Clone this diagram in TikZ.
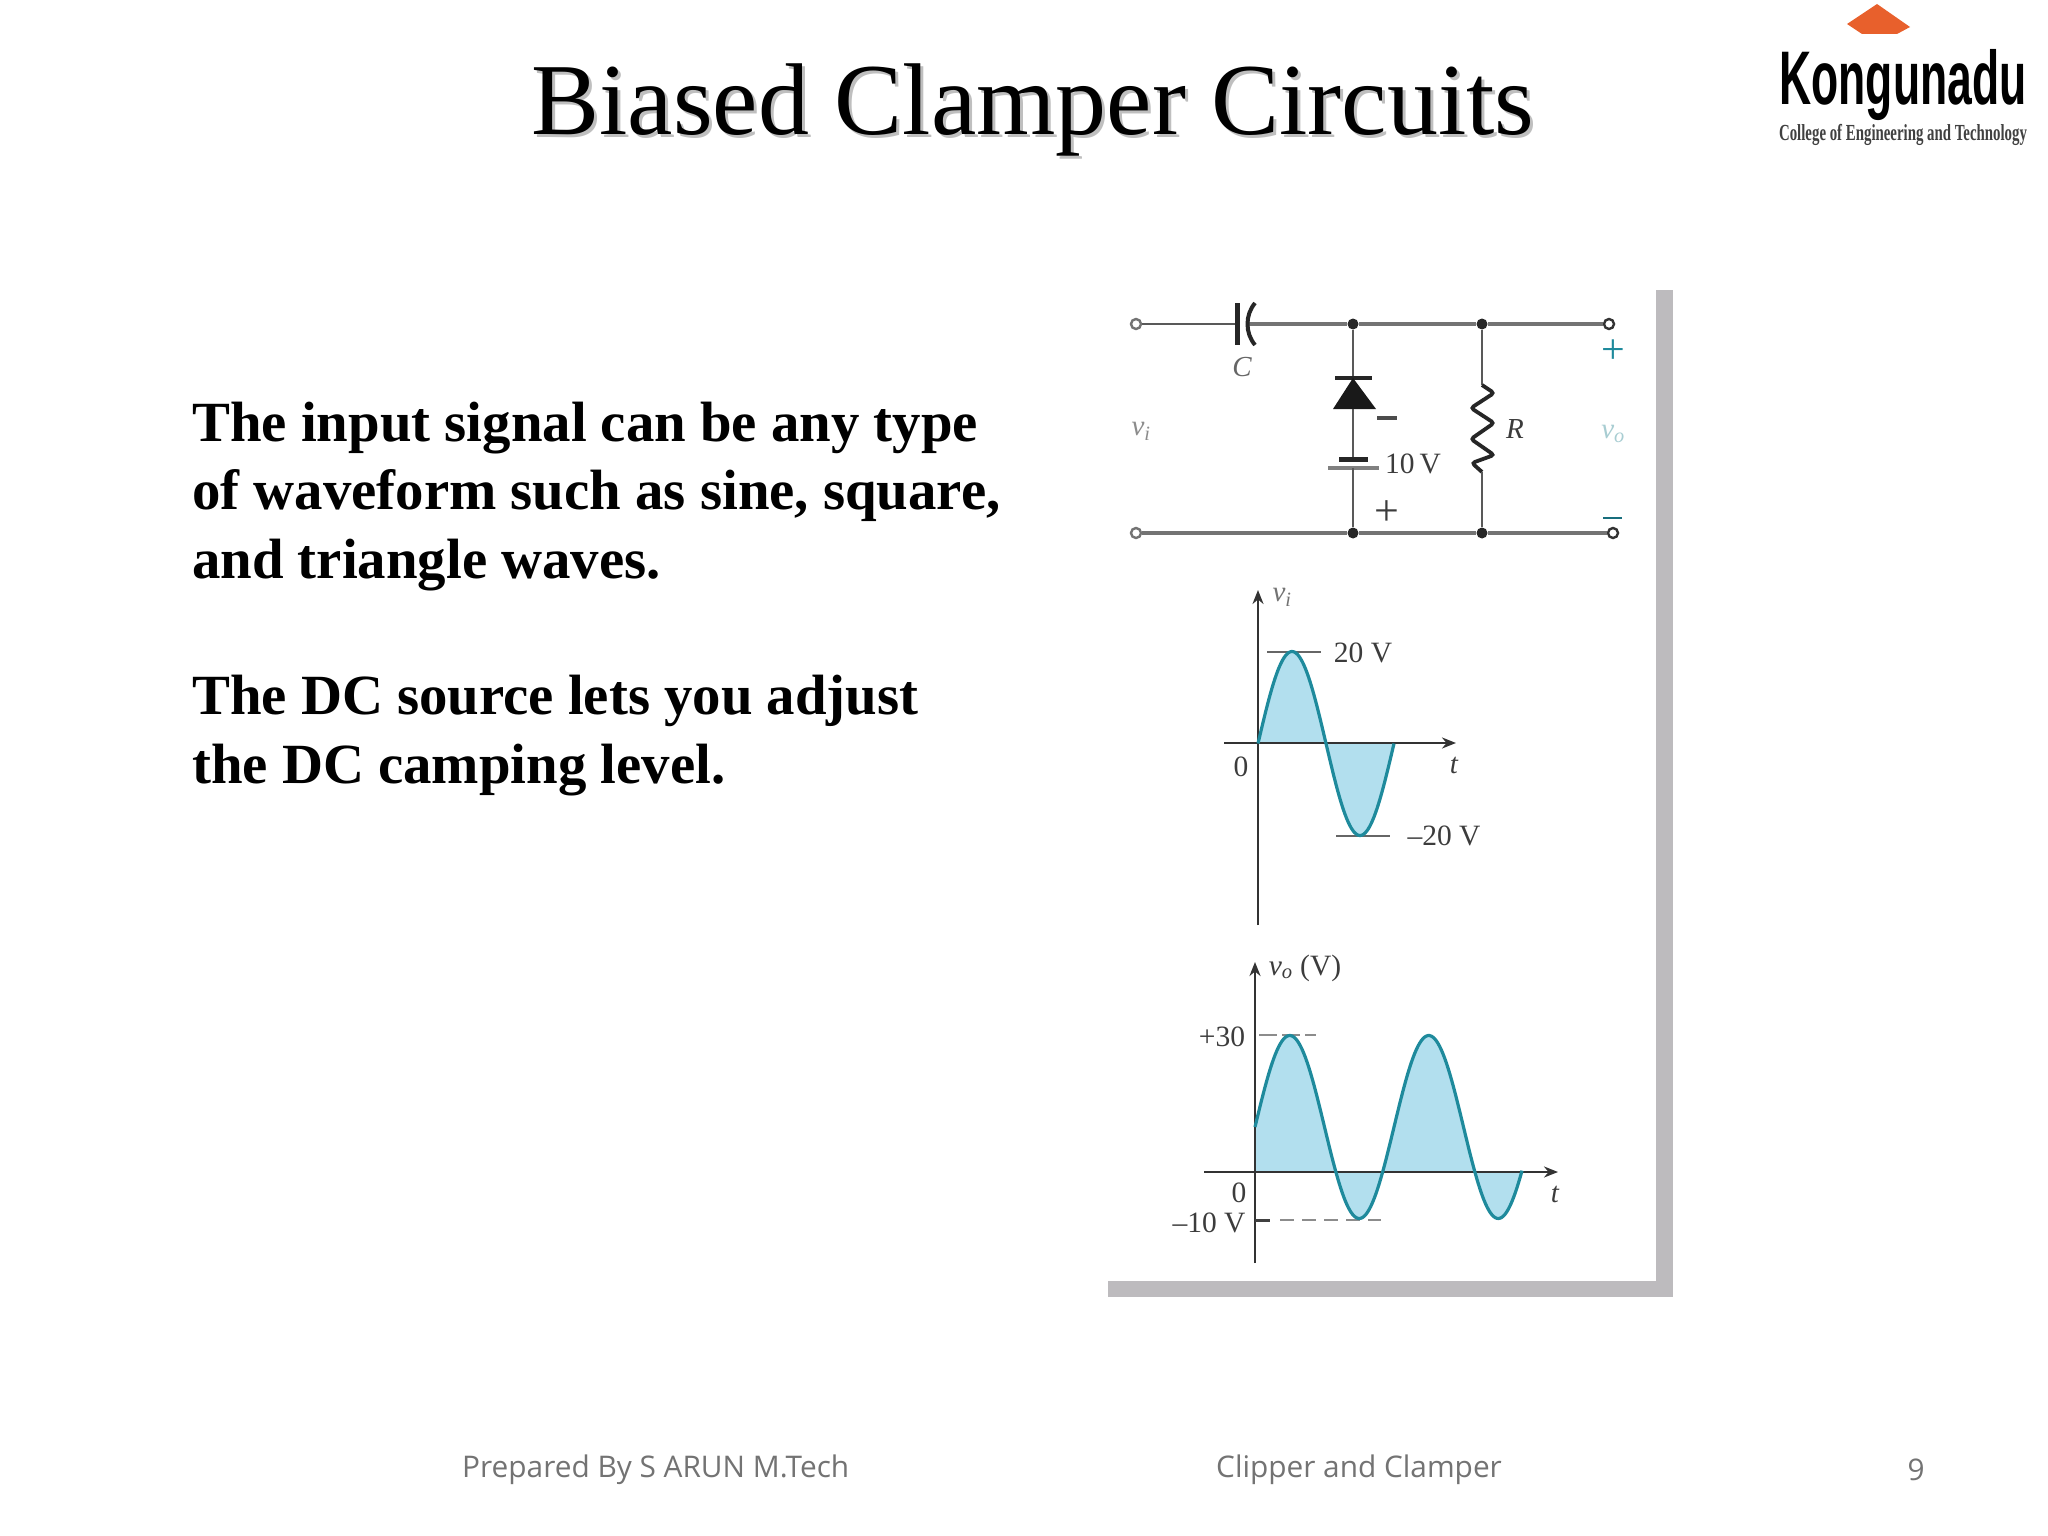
\documentclass[tikz,border=0pt]{standalone}
\usepackage{fontspec}
\usetikzlibrary{arrows.meta}
\setmainfont{Liberation Serif}
\newfontfamily\footfont{Open Sans}
\newfontfamily\logofont{Liberation Sans}
\definecolor{wavefill}{HTML}{B2DFEE}
\definecolor{waveline}{HTML}{1E8A9C}
\definecolor{panelgray}{HTML}{BDBBBE}
\definecolor{capred}{HTML}{E8602C}
\definecolor{labelgray}{HTML}{3C3C3C}
\definecolor{tealgray}{HTML}{A8CDD2}
\tikzset{
    wire/.style={line width=2.4pt,draw=black!65},
    heavywire/.style={line width=3.2pt,draw=black!55},
    axis/.style={line width=2.6pt,draw=black!80,-{Stealth[length=14pt,width=11pt]}},
    term/.style={circle,draw=black!55,fill=white,line width=2.4pt,minimum size=10pt,inner sep=0pt},
    junc/.style={circle,fill=black!85,minimum size=11pt,inner sep=0pt},
    plotlabel/.style={font=\fontsize{29.5}{30}\selectfont,text=labelgray,inner sep=0pt},
    itlabel/.style={plotlabel,font=\itshape\fontsize{29}{30}\selectfont},
    wave/.style={line width=3.2pt,draw=waveline},
    footer/.style={font=\footfont\fontsize{29.8}{32}\selectfont,text=black!55,inner sep=0pt}
}
\begin{document}
\begin{tikzpicture}[x=1pt,y=-1pt]
    \useasboundingbox (0,0) rectangle (2048,1536);
    \fill[white] (0,0) rectangle (2048,1536);

    % heading and slide text
    \node[text=black!25,font=\fontsize{102}{102}\selectfont,inner sep=0pt] (titleshadow) at (1036,113) {Biased Clamper Circuits};
    \node[font=\fontsize{102}{102}\selectfont,inner sep=0pt] (title) at (1033,110) {Biased Clamper Circuits};
    \node[anchor=north west,align=left,inner sep=0pt,font=\bfseries\fontsize{56.8}{68.3}\selectfont] (body) at (192,402) {The input signal can be any type\\of waveform such as sine, square,\\and triangle waves.\\[68.3pt]The DC source lets you adjust\\the DC camping level.};

    % logo
    \fill[capred] (1847,24) -- (1877,4) -- (1910,27) -- (1897,34) -- (1862,34) -- cycle;
    \node[font=\logofont\bfseries\fontsize{76}{76}\selectfont,xscale=.585,inner sep=0pt] (logoname) at (1903,85) {Kongunadu};
    \node[font=\bfseries\fontsize{23}{23}\selectfont,xscale=.646,text=black!75,inner sep=0pt] (logosub) at (1903,135) {College of Engineering and Technology};

    % shadow of the figure
    \fill[panelgray] (1656,290) rectangle (1673,1297);
    \fill[panelgray] (1108,1281) rectangle (1673,1297);

    % circuit
    \node[term] (intop) at (1136,324) {};
    \node[term] (inbot) at (1136,533) {};
    \node[term,draw=black!80] (outtop) at (1609,324) {};
    \node[term,draw=black!80] (outbot) at (1613,533) {};
    \node[junc] (jtopd) at (1353,324) {};
    \node[junc] (jtopr) at (1482,324) {};
    \node[junc] (jbotd) at (1353,533) {};
    \node[junc] (jbotr) at (1482,533) {};
    \coordinate (capl) at (1237,324);
    \coordinate (capr) at (1248,324);
    \coordinate (dbar) at (1353,378);
    \coordinate (dbase) at (1353,409);
    \coordinate (bshort) at (1353,459);
    \coordinate (blong) at (1353,468);
    \coordinate (rtop) at (1482,385);
    \coordinate (rbot) at (1482,472);

    \draw[wire] (intop) -- (capl);
    \draw[heavywire] (capr) -- (jtopd) -- (jtopr) -- (outtop);
    \draw[heavywire] (inbot) -- (jbotd) -- (jbotr) -- (outbot);
    \draw[line width=5pt,black!85] (1237,303) -- (1237,345);
    \draw[line width=4pt,black!85] (1255,303) .. controls (1245,315) and (1245,333) .. (1255,345);
    \draw[wire] (jtopd) -- (dbar);
    \draw[line width=3.5pt,black!85] (1335,378) -- (1372,378);
    \fill[black!90] (dbar) -- (1333,409) -- (1376,409) -- cycle;
    \draw[wire] (dbase) -- (bshort);
    \draw[line width=5pt,black!85] (1339,459) -- (1368,459);
    \draw[line width=3.5pt,black!50] (1328,468) -- (1379,468);
    \draw[wire] (blong) -- (jbotd);
    \draw[wire] (jtopr) -- (rtop);
    \draw[line width=3.8pt,black!85,rounded corners=3pt] (rtop) -- (1494,393) -- (1471,408) -- (1494,423) -- (1471,439) -- (1494,455) -- (1472,463) -- (rbot);
    \draw[wire] (rbot) -- (jbotr);

    \draw[line width=3.5pt,black!70] (1377,418) -- (1397,418);
    \node[plotlabel,font=\fontsize{44}{44}\selectfont] (batplus) at (1387,513) {+};
    \node[plotlabel] (batlabel) at (1413,464) {10\,V};
    \node[itlabel,text=black!60] (clabel) at (1242,367) {C};
    \node[itlabel] (rlabel) at (1515,429) {R};
    \node[itlabel,text=black!45] (vilabel) at (1141,431) {v\textsubscript{i}};
    \node[itlabel,text=tealgray] (volabel) at (1613,434) {v\textsubscript{o}};
    \node[plotlabel,text=waveline,font=\fontsize{42}{42}\selectfont] (outplus) at (1613,352) {+};
    \draw[line width=2.5pt,waveline!80!black] (1603,518) -- (1622,518);

    % input waveform
    \fill[wavefill] (1258,743) -- plot[domain=0:136,samples=90] ({1258+\x},{743.5-92*sin(\x/68*180)}) -- (1394,743) -- cycle;
    \coordinate (vitop) at (1258,590);
    \coordinate (vibot) at (1258,925);
    \coordinate (tileft) at (1224,743);
    \coordinate (tiright) at (1456,743);
    \draw[axis] (vibot) -- (vitop);
    \draw[axis] (tileft) -- (tiright);
    \draw[line width=2pt,black!60] (1267,652) -- (1321,652);
    \draw[line width=2pt,black!60] (1336,836) -- (1390,836);
    \draw[wave] plot[domain=0:136,samples=90] ({1258+\x},{743.5-92*sin(\x/68*180)});
    \node[itlabel,text=black!55] (viname) at (1282,597) {v\textsubscript{i}};
    \node[plotlabel] (vipeak) at (1363,653) {20 V};
    \node[plotlabel] (vitrough) at (1444,836) {--20 V};
    \node[plotlabel] (vizero) at (1241,767) {0};
    \node[itlabel] (tiname) at (1454,765) {t};

    % output waveform
    \fill[wavefill] (1255,1172) -- plot[domain=0:267,samples=160] ({1255+\x},{1127-91.5*sin(\x/139*360)}) -- (1522,1172) -- cycle;
    \coordinate (votop) at (1255,962);
    \coordinate (vobot) at (1255,1263);
    \coordinate (toleft) at (1204,1172);
    \coordinate (toright) at (1558,1172);
    \draw[axis] (vobot) -- (votop);
    \draw[axis] (toleft) -- (toright);
    \draw[line width=1.8pt,black!45,dash pattern=on 18pt off 5pt] (1259,1035) -- (1316,1035);
    \draw[line width=3pt,black!75] (1255,1220) -- (1270,1220);
    \draw[line width=1.8pt,black!45,dash pattern=on 14pt off 8pt] (1280,1220) -- (1381,1220);
    \draw[wave] plot[domain=0:267,samples=160] ({1255+\x},{1127-91.5*sin(\x/139*360)});
    \node[plotlabel] (voname) at (1305,968) {\textit{v\textsubscript{o}} (V)};
    \node[plotlabel] (vopeak) at (1222,1037) {+30};
    \node[plotlabel] (vozero) at (1239,1193) {0};
    \node[plotlabel] (votrough) at (1209,1223) {--10 V};
    \node[itlabel] (toname) at (1555,1194) {t};

    % footer
    \node[footer,anchor=west] (footleft) at (462,1470) {Prepared By S ARUN M.Tech};
    \node[footer,anchor=west] (footmid) at (1216,1470) {Clipper and Clamper};
    \node[footer] (footpage) at (1916,1470) {9};
\end{tikzpicture}
\end{document}
